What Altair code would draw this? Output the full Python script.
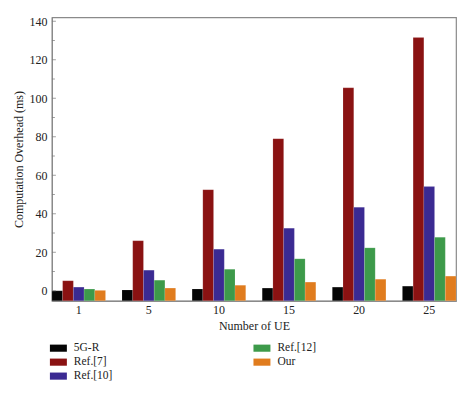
import altair as alt
import pandas as pd

ue = ["1", "5", "10", "15", "20", "25"]
series = ["5G-R", "Ref.[7]", "Ref.[10]", "Ref.[12]", "Our"]
v_5gr = [0.0, 0.4, 0.9, 1.4, 1.9, 2.4]
v_ref7 = [5.2, 26.0, 52.5, 79.0, 105.4, 131.5]
v_ref10 = [1.9, 10.7, 21.6, 32.5, 43.4, 54.1]
v_ref12 = [0.9, 5.5, 11.2, 16.6, 22.3, 27.8]
v_our = [0.2, 1.4, 2.9, 4.5, 6.0, 7.6]
colors = ["#050505", "#8a1212", "#3b2a92", "#3d9a4a", "#e07c1e"]
major_ticks = [0, 20, 40, 60, 80, 100, 120, 140]
minor_ticks = [10, 30, 50, 70, 90, 110, 130]

vals = [v_5gr, v_ref7, v_ref10, v_ref12, v_our]
rows = []
for s, vs in zip(series, vals):
    for u, v in zip(ue, vs):
        rows.append({"ue": u, "series": s, "value": v})
df = pd.DataFrame(rows)

FONT = "Liberation Serif"
YDOM = [-5.2, 142]

yscale = alt.Scale(domain=YDOM, nice=False, zero=False)

bars = alt.Chart(df).mark_bar(stroke="#ffffff", strokeWidth=0.3, strokeOpacity=0.4).encode(
    x=alt.X("ue:N", sort=ue, title="Number of UE",
            scale=alt.Scale(paddingInner=0.235, paddingOuter=0.0),
            axis=alt.Axis(labelAngle=0, ticks=False, labelPadding=4, titlePadding=5)),
    xOffset=alt.XOffset("series:N", sort=series, scale=alt.Scale(paddingInner=0, paddingOuter=0)),
    y=alt.Y("value:Q", scale=yscale, title="Computation Overhead (ms)",
            axis=alt.Axis(values=major_ticks, ticks=False, labelPadding=5, titlePadding=3, grid=False)),
    y2=alt.datum(YDOM[0]),
    color=alt.Color("series:N",
                    scale=alt.Scale(domain=series, range=colors),
                    legend=alt.Legend(title=None, orient="none", legendX=-2, legendY=323,
                                      columns=2, direction="vertical", columnPadding=141,
                                      rowPadding=0, padding=0,
                                      symbolType="M-1,-0.42H1V0.42H-1Z", symbolSize=289,
                                      symbolStrokeWidth=0, labelOffset=7,
                                      labelFont=FONT, labelFontSize=11.5, labelColor="#222")),
)

tdf_major = pd.DataFrame({"t": major_ticks})
tdf_minor = pd.DataFrame({"t": minor_ticks})
ticks_major = alt.Chart(tdf_major).mark_tick(orient="horizontal", color="#777", thickness=1, size=4).encode(
    y=alt.Y("t:Q", scale=yscale), x=alt.value(2))
ticks_minor = alt.Chart(tdf_minor).mark_tick(orient="horizontal", color="#777", thickness=1, size=3).encode(
    y=alt.Y("t:Q", scale=yscale), x=alt.value(1.5))

chart = alt.layer(bars, ticks_major, ticks_minor).properties(
    width=405, height=284,
    autosize=alt.AutoSizeParams(type="none"),
    padding={"left": 44, "top": 9, "right": 10, "bottom": 90},
    background="#ffffff",
).configure_view(
    stroke="#8a8a8a", strokeWidth=1.2,
).configure_axis(
    domainColor="#8a8a8a", domainWidth=1.2,
    labelFont=FONT, labelFontSize=12, labelColor="#222",
    titleFont=FONT, titleFontSize=12, titleColor="#222", titleFontWeight="normal",
)

chart.save("out.html", embed_options={"renderer": "svg", "actions": False})
